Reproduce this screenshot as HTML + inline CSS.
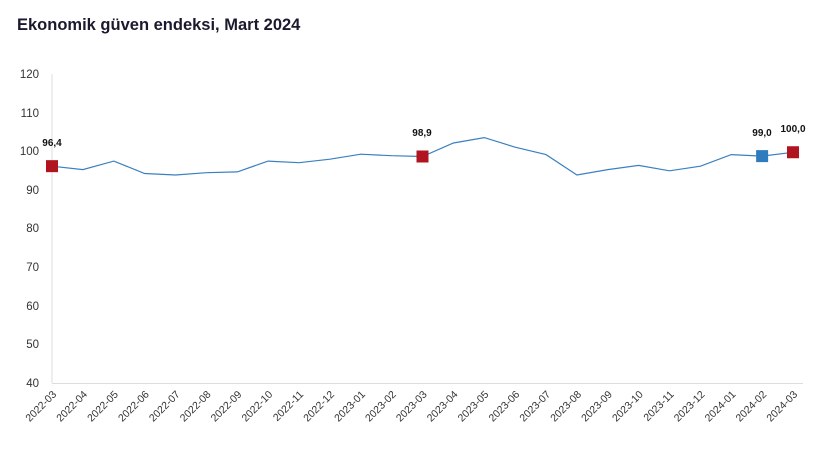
<!DOCTYPE html>
<html><head><meta charset="utf-8"><style>
html,body{margin:0;padding:0;background:#fff;width:824px;height:454px;overflow:hidden}
</style></head><body>
<svg width="824" height="454" xmlns="http://www.w3.org/2000/svg" font-family="Liberation Sans, sans-serif">
<text x="17" y="30" font-size="16.5" font-weight="bold" fill="#1a1a2e">Ekonomik güven endeksi, Mart 2024</text>
<line x1="52" y1="74" x2="52" y2="383" stroke="#ddd" stroke-width="1"/>
<line x1="52" y1="383.5" x2="803" y2="383.5" stroke="#ddd" stroke-width="1"/>
<g font-size="11.5" fill="#333" text-anchor="end">
<text x="39" y="78">120</text><text x="39" y="117">110</text><text x="39" y="155">100</text>
<text x="39" y="194">90</text><text x="39" y="232">80</text><text x="39" y="271">70</text>
<text x="39" y="310">60</text><text x="39" y="348">50</text><text x="39" y="387">40</text>
</g>
<g id="xl" font-size="10.5" fill="#333" text-anchor="end"></g>
<polyline id="ln" fill="none" stroke="#3a80c0" stroke-width="1.2"/>
<g id="mk"></g>
<g font-size="10" font-weight="bold" fill="#111" text-anchor="middle">
<text x="52" y="146">96,4</text><text x="422" y="136">98,9</text>
<text x="762" y="136">99,0</text><text x="793" y="132">100,0</text>
</g>
</svg>
<script>
var v=[96.4,95.5,97.7,94.5,94.1,94.7,94.9,97.7,97.3,98.2,99.5,99.1,98.9,102.4,103.8,101.3,99.4,94.1,95.5,96.6,95.2,96.4,99.4,99.0,100.0];
var lab=["2022-03","2022-04","2022-05","2022-06","2022-07","2022-08","2022-09","2022-10","2022-11","2022-12","2023-01","2023-02","2023-03","2023-04","2023-05","2023-06","2023-07","2023-08","2023-09","2023-10","2023-11","2023-12","2024-01","2024-02","2024-03"];
var X=i=>52+i*30.875, Y=x=>384-(x-40)*3.8625;
var pts=v.map((a,i)=>X(i).toFixed(1)+","+Y(a).toFixed(1)).join(" ");
document.getElementById("ln").setAttribute("points",pts);
var ns="http://www.w3.org/2000/svg",xl=document.getElementById("xl");
lab.forEach((l,i)=>{var t=document.createElementNS(ns,"text");var x=X(i)+5,y=395;t.setAttribute("x",x);t.setAttribute("y",y);t.setAttribute("transform","rotate(-45 "+x+" "+y+")");t.textContent=l;xl.appendChild(t);});
var mk=document.getElementById("mk");
[[0,"#b0141e"],[12,"#b0141e"],[23,"#2e7bbd"],[24,"#b0141e"]].forEach(p=>{var r=document.createElementNS(ns,"rect");r.setAttribute("x",X(p[0])-6);r.setAttribute("y",Y(v[p[0]])-6);r.setAttribute("width",12);r.setAttribute("height",12);r.setAttribute("fill",p[1]);mk.appendChild(r);});
</script>
</body></html>
